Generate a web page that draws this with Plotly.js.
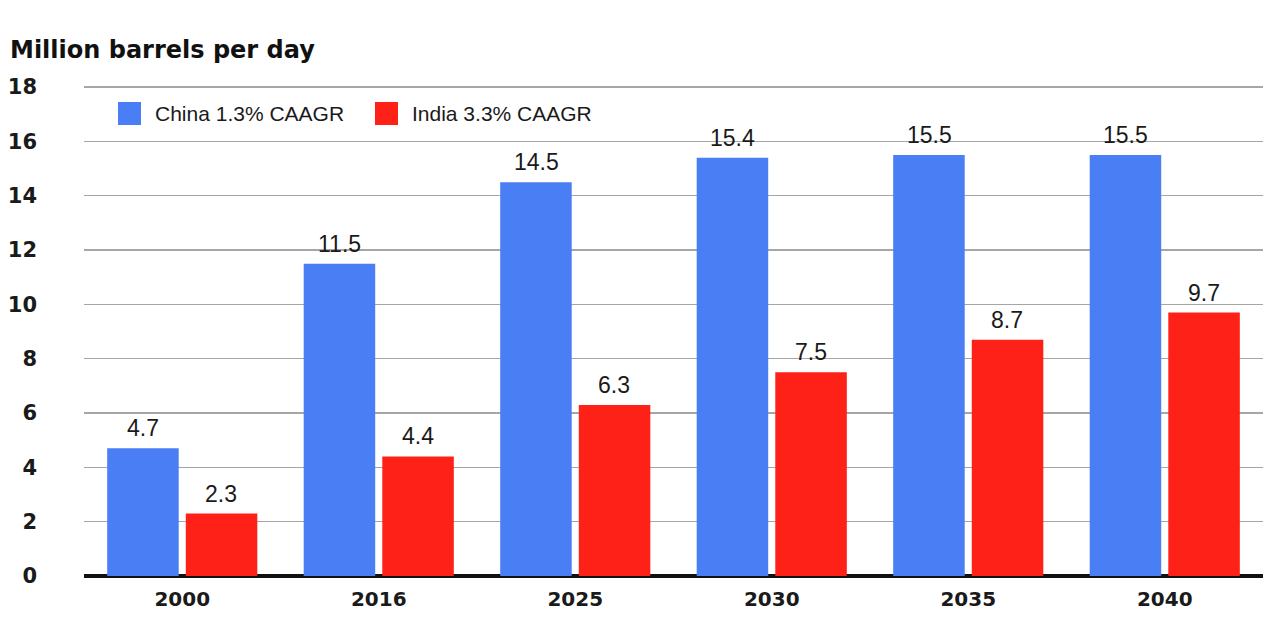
<!DOCTYPE html>
<html>
<head>
<meta charset="utf-8">
<script src="https://cdn.plot.ly/plotly-3.0.1.min.js"></script>
<style>
  html, body { margin: 0; padding: 0; background: #fff; }
  #chart { width: 1280px; height: 640px; }
</style>
</head>
<body>
<div id="chart"></div>
<script>
// Oil demand outlook, million barrels per day
const years = ['2000', '2016', '2025', '2030', '2035', '2040'];
const china = [4.7, 11.5, 14.5, 15.4, 15.5, 15.5];
const india = [2.3, 4.4, 6.3, 7.5, 8.7, 9.7];
const seriesNames = ['China 1.3% CAAGR', 'India 3.3% CAAGR'];
const seriesColors = ['#4a7ef4', '#fd2117'];
const yTicks = [0, 2, 4, 6, 8, 10, 12, 14, 16, 18];

const W = 1280, H = 640;
const M = { l: 84, r: 17, t: 86, b: 64 };
const yMax = 18.04; // a hair above the top tick so its gridline is drawn
const plotW = W - M.l - M.r, plotH = H - M.t - M.b;
// pixel -> paper coordinates for the hand-placed legend
const px = x => (x - M.l) / plotW;
const py = y => (H - M.b - y) / plotH;

const labelFont = { family: 'Liberation Sans, Arial, sans-serif', size: 23, color: '#1a1a1a' };

const traces = [china, india].map((vals, i) => ({
  type: 'bar',
  x: years,
  y: vals,
  name: seriesNames[i],
  marker: { color: seriesColors[i], line: { width: 0 } },
  hoverinfo: 'x+y+name'
}));

// value labels above each bar (bars sit 39px either side of the category centre);
// x is the category index, since the year names look numeric
const barOffset = [-39, 39];
const valueLabels = [];
[china, india].forEach((vals, i) => {
  vals.forEach((v, j) => {
    valueLabels.push({
      xref: 'x', yref: 'y', x: j, y: v,
      xshift: barOffset[i], yshift: 5,
      xanchor: 'center', yanchor: 'bottom',
      text: v.toFixed(1), showarrow: false, font: labelFont
    });
  });
});

// legend: coloured squares with their series names
const legendItems = [
  { box: 118, text: 153 },
  { box: 375, text: 410 }
];
const shapes = legendItems.map((it, i) => ({
  type: 'rect', xref: 'paper', yref: 'paper',
  x0: px(it.box), x1: px(it.box + 23),
  y0: py(125), y1: py(102),
  fillcolor: seriesColors[i], line: { width: 0 }
}));
const legendText = legendItems.map((it, i) => ({
  xref: 'paper', yref: 'paper',
  x: px(it.text), y: py(113.5),
  xanchor: 'left', yanchor: 'middle',
  text: seriesNames[i], showarrow: false,
  font: { family: 'Liberation Sans, Arial, sans-serif', size: 21, color: '#1a1a1a' }
}));

const layout = {
  width: W, height: H,
  margin: M,
  paper_bgcolor: '#ffffff',
  plot_bgcolor: '#ffffff',
  showlegend: false,
  barmode: 'group',
  bargap: 0.2,
  bargroupgap: 0.09,
  title: {
    text: 'Million barrels per day',
    x: 10 / W, xanchor: 'left', xref: 'container',
    y: 1 - 50 / H, yanchor: 'middle', yref: 'container',
    font: { family: 'DejaVu Sans, sans-serif', size: 24, weight: 'bold', color: '#111' }
  },
  xaxis: {
    type: 'category',
    categoryorder: 'array',
    categoryarray: years,
    range: [-0.5, years.length - 0.5],
    tickfont: { family: 'DejaVu Sans, sans-serif', size: 20, weight: 'bold', color: '#1a1a1a' },
    ticks: '',
    ticklabelstandoff: 9,
    showline: false,
    showgrid: false,
    fixedrange: true
  },
  yaxis: {
    range: [0, yMax],
    tickvals: yTicks,
    ticktext: yTicks.map(String),
    tickfont: { family: 'DejaVu Sans, sans-serif', size: 21, weight: 'bold', color: '#1a1a1a' },
    ticks: '',
    ticklabelstandoff: 46,
    showgrid: true,
    gridcolor: '#a6a6a6',
    gridwidth: 1.5,
    zeroline: true,
    zerolinecolor: '#111',
    zerolinewidth: 3.5,
    showline: false,
    fixedrange: true
  },
  shapes: shapes,
  annotations: valueLabels.concat(legendText)
};

Plotly.newPlot('chart', traces, layout, { displayModeBar: false, staticPlot: true });
</script>
</body>
</html>
